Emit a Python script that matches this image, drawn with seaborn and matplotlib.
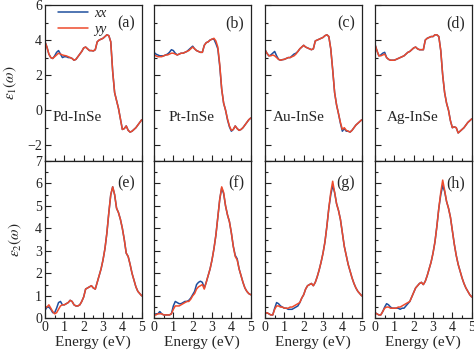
import numpy as np
import pandas as pd
import matplotlib
matplotlib.use("Agg")
import matplotlib.pyplot as plt
import seaborn as sns
from matplotlib.ticker import MultipleLocator

sns.set_theme(style="ticks")
plt.rcParams['font.family'] = ['Liberation Serif', 'DejaVu Serif']
plt.rcParams['mathtext.fontset'] = 'stix'

energy = np.round(np.linspace(0, 5, 51), 2)
materials = ["Pd-InSe", "Pt-InSe", "Au-InSe", "Ag-InSe"]
top_labels = ["(a)", "(b)", "(c)", "(d)"]
bot_labels = ["(e)", "(f)", "(g)", "(h)"]

# epsilon_1 (real part)
pd_eps1_xx = [3.9,3.6,3.2,3.0,2.95,3.1,3.3,3.4,3.2,3.0, 3.05,3.05,3.0,3.0,2.95,2.85,2.9,3.05,3.2,3.35,
              3.55,3.6,3.5,3.4,3.4,3.38,3.45,3.9,4.0,4.05, 4.1,4.2,4.3,4.25,3.9,2.2,1.0,0.55,0.1,-0.5,
              -1.1,-1.05,-0.9,-1.15,-1.25,-1.2,-1.1,-1.0,-0.85,-0.7,-0.55]
pd_eps1_yy = [3.9,3.6,3.2,3.0,2.95,3.05,3.15,3.25,3.2,3.15, 3.12,3.1,3.05,3.0,2.95,2.85,2.9,3.05,3.2,3.35,
              3.55,3.6,3.5,3.4,3.4,3.38,3.45,3.9,4.0,4.05, 4.1,4.2,4.3,4.25,3.9,2.2,1.0,0.55,0.1,-0.5,
              -1.1,-1.05,-0.9,-1.15,-1.25,-1.2,-1.1,-1.0,-0.85,-0.7,-0.55]
pt_eps1_xx = [3.3,3.2,3.15,3.1,3.1,3.1,3.15,3.2,3.3,3.45, 3.4,3.25,3.15,3.2,3.25,3.25,3.3,3.35,3.45,3.55,
              3.65,3.5,3.4,3.35,3.3,3.3,3.7,3.85,3.9,4.0, 4.05,4.05,3.8,3.5,2.5,1.2,0.4,0.0,-0.55,-0.95,
              -1.2,-1.1,-0.9,-1.05,-1.15,-1.1,-1.0,-0.85,-0.7,-0.55,-0.45]
pt_eps1_yy = [3.15,3.1,3.05,3.05,3.05,3.1,3.15,3.15,3.2,3.25, 3.25,3.2,3.15,3.2,3.25,3.25,3.3,3.35,3.4,3.5,
              3.6,3.5,3.4,3.35,3.3,3.3,3.7,3.85,3.9,4.0, 4.05,4.1,3.95,3.6,2.6,1.2,0.4,0.0,-0.5,-0.9,
              -1.15,-1.1,-0.9,-1.05,-1.15,-1.1,-1.0,-0.85,-0.7,-0.55,-0.45]
au_eps1_xx = [3.45,3.25,3.1,3.15,3.25,3.35,3.1,2.9,2.85,2.88, 2.9,2.95,3.0,3.0,3.1,3.2,3.25,3.35,3.5,3.6,
              3.7,3.6,3.55,3.5,3.45,3.5,3.95,4.0,4.05,4.1, 4.15,4.25,4.3,4.2,3.5,2.3,1.0,0.3,-0.2,-0.75,
              -1.2,-1.05,-1.2,-1.2,-1.25,-1.15,-1.0,-0.85,-0.75,-0.65,-0.55]
au_eps1_yy = [3.45,3.25,3.1,3.1,3.15,3.1,3.0,2.9,2.85,2.88, 2.9,2.95,3.0,3.0,3.05,3.1,3.2,3.35,3.5,3.6,
              3.7,3.6,3.55,3.5,3.45,3.5,3.95,4.0,4.05,4.1, 4.15,4.25,4.3,4.2,3.5,2.3,1.0,0.3,-0.2,-0.7,
              -1.1,-1.0,-1.15,-1.2,-1.25,-1.15,-1.0,-0.85,-0.75,-0.65,-0.55]
ag_eps1_xx = [3.75,3.4,3.1,3.15,3.25,3.3,3.0,2.9,2.85,2.85, 2.85,2.9,2.95,3.0,3.05,3.1,3.2,3.3,3.35,3.45,
              3.55,3.6,3.5,3.45,3.45,3.45,4.0,4.1,4.15,4.2, 4.2,4.3,4.3,4.2,3.4,2.0,1.0,0.4,0.0,-0.6,
              -1.0,-0.95,-1.0,-1.3,-1.2,-1.1,-1.0,-0.85,-0.7,-0.6,-0.5]
ag_eps1_yy = [3.75,3.4,3.1,3.1,3.15,3.2,3.0,2.9,2.85,2.85, 2.85,2.9,2.95,3.0,3.05,3.1,3.2,3.3,3.35,3.45,
              3.55,3.6,3.5,3.45,3.45,3.45,4.0,4.1,4.15,4.2, 4.2,4.3,4.3,4.2,3.4,2.0,1.0,0.4,0.0,-0.6,
              -1.0,-0.95,-1.0,-1.3,-1.2,-1.1,-1.0,-0.85,-0.7,-0.6,-0.5]

# epsilon_2 (imaginary part)
pd_eps2_xx = [0.35,0.5,0.5,0.4,0.25,0.25,0.45,0.7,0.75,0.6, 0.6,0.65,0.7,0.8,0.75,0.6,0.55,0.55,0.6,0.75,
              0.95,1.3,1.35,1.4,1.45,1.35,1.3,1.6,1.9,2.2, 2.6,3.1,3.8,4.7,5.5,5.85,5.5,4.9,4.7,4.4,
              4.0,3.5,2.9,2.75,2.4,2.0,1.7,1.4,1.2,1.1,1.0]
pd_eps2_yy = [0.53,0.5,0.6,0.45,0.3,0.2,0.25,0.4,0.55,0.6, 0.6,0.65,0.7,0.8,0.75,0.6,0.55,0.55,0.6,0.75,
              0.95,1.3,1.35,1.4,1.45,1.35,1.3,1.6,1.9,2.2, 2.6,3.1,3.8,4.7,5.5,5.85,5.5,4.9,4.7,4.4,
              4.0,3.5,2.9,2.75,2.4,2.0,1.7,1.4,1.2,1.1,1.0]
pt_eps2_xx = [0.15,0.2,0.2,0.3,0.2,0.15,0.15,0.15,0.15,0.2, 0.55,0.75,0.7,0.65,0.65,0.7,0.75,0.75,0.8,0.9,
              1.05,1.2,1.5,1.6,1.65,1.6,1.35,1.6,1.9,2.2, 2.6,3.1,3.7,4.5,5.3,5.8,5.55,5.0,4.6,4.3,
              3.8,3.2,2.8,2.65,2.2,1.9,1.6,1.35,1.2,1.1,1.05]
pt_eps2_yy = [0.15,0.15,0.2,0.2,0.2,0.15,0.15,0.15,0.15,0.2, 0.4,0.55,0.55,0.55,0.6,0.65,0.7,0.75,0.75,0.85,
              1.0,1.1,1.3,1.4,1.45,1.5,1.3,1.6,1.9,2.2, 2.6,3.1,3.7,4.5,5.3,5.85,5.6,5.0,4.6,4.3,
              3.8,3.2,2.75,2.6,2.2,1.9,1.6,1.35,1.2,1.1,1.05]
au_eps2_xx = [0.2,0.25,0.2,0.15,0.15,0.45,0.7,0.65,0.55,0.5, 0.45,0.45,0.4,0.4,0.4,0.45,0.5,0.55,0.7,0.9,
              1.05,1.3,1.45,1.5,1.55,1.45,1.6,1.85,2.15,2.5, 2.9,3.4,4.1,4.9,5.5,5.9,5.6,5.1,4.8,4.4,
              3.8,3.2,2.8,2.4,2.1,1.8,1.55,1.35,1.2,1.1,1.0]
au_eps2_yy = [0.2,0.25,0.2,0.15,0.15,0.4,0.55,0.55,0.5,0.5, 0.45,0.45,0.45,0.5,0.5,0.55,0.6,0.65,0.7,0.9,
              1.05,1.3,1.45,1.5,1.55,1.45,1.6,1.85,2.15,2.5, 2.9,3.4,4.1,4.9,5.6,6.1,5.6,5.1,4.8,4.4,
              3.8,3.2,2.8,2.4,2.1,1.8,1.55,1.35,1.2,1.1,1.0]
ag_eps2_xx = [0.25,0.2,0.15,0.15,0.3,0.5,0.65,0.6,0.5,0.45, 0.45,0.45,0.45,0.4,0.45,0.45,0.55,0.65,0.75,0.95,
              1.15,1.35,1.45,1.55,1.6,1.5,1.65,1.9,2.2,2.5, 2.9,3.4,4.1,4.9,5.5,5.9,5.65,5.2,4.9,4.5,
              3.9,3.3,2.8,2.4,2.1,1.8,1.55,1.35,1.2,1.05,0.95]
ag_eps2_yy = [0.25,0.2,0.15,0.15,0.3,0.45,0.5,0.5,0.45,0.45, 0.45,0.45,0.5,0.5,0.55,0.6,0.65,0.7,0.75,0.95,
              1.15,1.35,1.45,1.55,1.6,1.5,1.65,1.9,2.2,2.5, 2.9,3.4,4.1,4.9,5.6,6.15,5.7,5.2,4.9,4.5,
              3.9,3.3,2.8,2.4,2.1,1.8,1.55,1.35,1.2,1.05,0.95]

eps1 = {"Pd-InSe": (pd_eps1_xx, pd_eps1_yy), "Pt-InSe": (pt_eps1_xx, pt_eps1_yy),
        "Au-InSe": (au_eps1_xx, au_eps1_yy), "Ag-InSe": (ag_eps1_xx, ag_eps1_yy)}
eps2 = {"Pd-InSe": (pd_eps2_xx, pd_eps2_yy), "Pt-InSe": (pt_eps2_xx, pt_eps2_yy),
        "Au-InSe": (au_eps2_xx, au_eps2_yy), "Ag-InSe": (ag_eps2_xx, ag_eps2_yy)}

BLUE = "#1f4f9e"
RED = "#ee4a2c"
palette = {"xx": BLUE, "yy": RED}

W, H = 474, 353
fig = plt.figure(figsize=(W / 100, H / 100), dpi=100)
lefts = [45, 154, 265, 375]
aw = 96.7
top_rows = (5, 161)
bot_rows = (161, 318.3)


def make_df(xx, yy):
    return pd.DataFrame({
        "E": np.concatenate([energy, energy]),
        "val": np.concatenate([xx, yy]),
        "comp": ["xx"] * len(energy) + ["yy"] * len(energy),
    })


def style(ax, ymaj, ymin):
    ax.set_xlim(0, 5)
    ax.xaxis.set_major_locator(MultipleLocator(1))
    ax.xaxis.set_minor_locator(MultipleLocator(0.5))
    ax.yaxis.set_major_locator(MultipleLocator(ymaj))
    ax.yaxis.set_minor_locator(MultipleLocator(ymin))
    ax.tick_params(which="both", direction="in", top=False, right=False,
                   labelsize=10, pad=2, color="#222222", labelcolor="#222222")
    ax.tick_params(which="major", length=4, width=0.8)
    ax.tick_params(which="minor", length=2.5, width=0.8)
    for s in ax.spines.values():
        s.set_linewidth(0.9)
        s.set_color("#222222")
    ax.set_xlabel("")
    ax.set_ylabel("")


for i, m in enumerate(materials):
    # top row
    ax = fig.add_axes([lefts[i] / W, 1 - top_rows[1] / H, aw / W, (top_rows[1] - top_rows[0]) / H])
    df = make_df(*eps1[m])
    sns.lineplot(data=df, x="E", y="val", hue="comp", palette=palette, ax=ax,
                 linewidth=1.1, legend=(i == 0), sort=False)
    ax.set_ylim(-2.9, 6)
    style(ax, 2, 1)
    ax.set_xticklabels([])
    if i != 0:
        ax.set_yticklabels([])
    else:
        ax.set_yticks([-2, 0, 2, 4, 6])
        ax.set_yticklabels(["\u22122", "0", "2", "4", "6"])
        ax.set_ylabel(r"$\varepsilon_1(\omega)$", fontsize=11, labelpad=6)
        leg = ax.legend(loc="upper left", frameon=False, fontsize=10, handlelength=2.2,
                        handletextpad=0.4, borderaxespad=0.1, labelspacing=0.2,
                        bbox_to_anchor=(0.06, 1.03))
        for t in leg.get_texts():
            t.set_fontstyle("italic")
    ax.text(0.93, 0.88, top_labels[i], transform=ax.transAxes, ha="right", va="center", fontsize=11.5)
    lx = {0: 0.4, 1: 0.75, 2: 0.4, 3: 0.6}[i]
    ax.text(lx, -0.4, m, ha="left", va="center", fontsize=11)

    # bottom row
    ax2 = fig.add_axes([lefts[i] / W, 1 - bot_rows[1] / H, aw / W, (bot_rows[1] - bot_rows[0]) / H])
    df2 = make_df(*eps2[m])
    sns.lineplot(data=df2, x="E", y="val", hue="comp", palette=palette, ax=ax2,
                 linewidth=1.1, legend=False, sort=False)
    ax2.set_ylim(0, 7)
    style(ax2, 1, 0.5)
    ax2.set_xticks([0, 1, 2, 3, 4, 5])
    ax2.set_xticklabels(["0", "1", "2", "3", "4", "5"])
    ax2.set_xlabel("Energy (eV)", fontsize=11, labelpad=1)
    if i != 0:
        ax2.set_yticklabels([])
    else:
        ax2.set_ylabel(r"$\varepsilon_2(\omega)$", fontsize=11, labelpad=8)
    ax2.text(0.93, 0.86, bot_labels[i], transform=ax2.transAxes, ha="right", va="center", fontsize=11.5)

fig.savefig("out.png", dpi=100)
